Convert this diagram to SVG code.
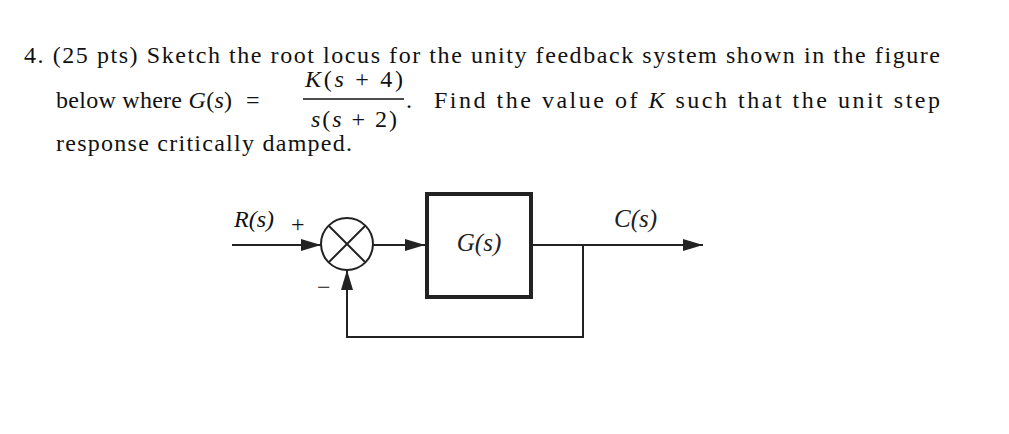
<svg xmlns="http://www.w3.org/2000/svg" width="1009" height="434" viewBox="0 0 1009 434">
<style>
.t{font-family:"Liberation Serif",serif;font-size:24px;fill:#111}
.i{font-style:italic}
.c{stroke:#222;stroke-width:2;fill:none}
.l{font-family:"Liberation Serif",serif;font-size:25px;font-style:italic;fill:#222}
</style>
<defs><marker id="a" markerWidth="20" markerHeight="12" refX="20" refY="6" orient="auto" markerUnits="userSpaceOnUse"><path d="M0,0L20,6L0,12Z" fill="#222"/></marker></defs>
<rect width="1009" height="434" fill="#fff"/>
<text class="t" x="24" y="63" textLength="916" lengthAdjust="spacing">4. (25 pts) Sketch the root locus for the unity feedback system shown in the figure</text>
<text class="t" x="56" y="108" textLength="176" lengthAdjust="spacing">below where <tspan class="i">G</tspan>(<tspan class="i">s</tspan>)</text>
<text class="t" x="246" y="108">=</text>
<text class="t" x="305" y="87" textLength="98"><tspan class="i">K</tspan>(<tspan class="i">s</tspan> + 4)</text>
<line x1="303" y1="99" x2="404" y2="99" stroke="#111" stroke-width="1.3"/>
<text class="t" x="311" y="127" textLength="86"><tspan class="i">s</tspan>(<tspan class="i">s</tspan> + 2)</text>
<text class="t" x="406" y="108">.</text>
<text class="t" x="434" y="108" textLength="506" lengthAdjust="spacing">Find the value of <tspan class="i">K</tspan> such that the unit step</text>
<text class="t" x="56" y="151" textLength="296" lengthAdjust="spacing">response critically damped.</text>
<g id="sum"><circle cx="347" cy="244" r="26" class="c" stroke-width="1.5"/><line x1="329" y1="226" x2="365" y2="262" class="c" stroke-width="1.5"/><line x1="365" y1="226" x2="329" y2="262" class="c" stroke-width="1.5"/></g>
<g id="G"><rect x="427" y="194" width="104" height="103" fill="none" stroke="#222" stroke-width="4"/><text class="l" x="479" y="251" text-anchor="middle">G(s)</text></g>
<g id="labels"><text class="t" x="234" y="227" font-size="25" font-style="italic">R(s)</text><text class="t" x="291" y="232">+</text><text class="t" x="317" y="295">−</text><text class="l" x="614" y="227">C(s)</text></g>
<g id="connectors">
<line x1="232" y1="245" x2="321" y2="245" class="c" marker-end="url(#a)"/>
<line x1="373" y1="245" x2="425" y2="245" class="c" marker-end="url(#a)"/>
<line x1="533" y1="245" x2="703" y2="245" class="c" marker-end="url(#a)"/>
<polyline points="583,245 583,337 347,337 347,270" class="c" marker-end="url(#a)"/>
</g>
</svg>
